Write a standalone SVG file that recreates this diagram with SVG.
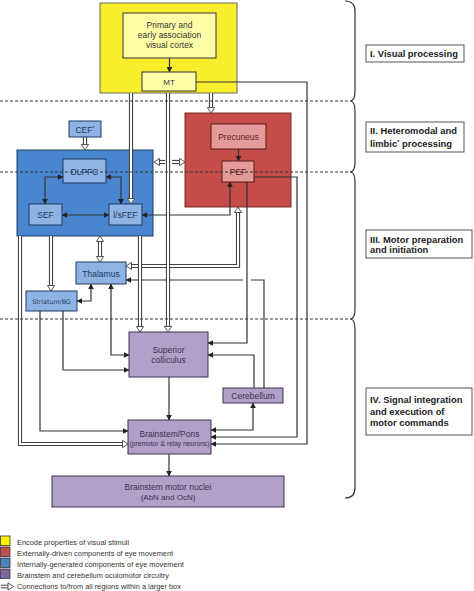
<svg xmlns="http://www.w3.org/2000/svg" width="474" height="591" viewBox="0 0 474 591">
<style>
text{font-family:"Liberation Sans",Arial,sans-serif;font-size:8.5px;text-anchor:middle}
.yo{fill:#F8EE2E;stroke:#666;stroke-width:1}
.yi{fill:#FFFFA8;stroke:#333;stroke-width:1}
.ro{fill:#C44D4A;stroke:#7A2A28;stroke-width:1}
.ri{fill:#E39A98;stroke:#5A1A18;stroke-width:1}
.bo{fill:#4A86D0;stroke:#1F3B63;stroke-width:1}
.bi{fill:#8DB4E2;stroke:#1F3B63;stroke-width:1}
.pu{fill:#B1A0C7;stroke:#3D3355;stroke-width:1}
.tb{fill:#1F3864}.tr{fill:#5B1F1E}.tp{fill:#403152}.ty{fill:#333}
.ln{fill:none;stroke:#333;stroke-width:1.2}
.dO{fill:none;stroke:#444;stroke-width:4.2}
.dI{fill:none;stroke:#fff;stroke-width:2}
.dash{stroke:#333;stroke-width:1;stroke-dasharray:3 2}
.rb{fill:#fff;stroke:#555;stroke-width:1}
.rt{font-weight:bold;font-size:9.4px;text-anchor:start;fill:#222}
.lg{font-size:7.4px;text-anchor:start;fill:#333}
</style>
<defs>
<marker id="sa" markerUnits="userSpaceOnUse" markerWidth="8" markerHeight="8" viewBox="-1 -4 7 8" refX="5" refY="0" orient="auto-start-reverse"><path d="M0,-2.8 L5.5,0 L0,2.8 Z" fill="#222"/></marker>
<marker id="oa" markerUnits="userSpaceOnUse" markerWidth="10" markerHeight="10" viewBox="-1 -5 8 10" refX="0" refY="0" orient="auto-start-reverse"><path d="M0,-3.6 L5.5,0 L0,3.6 Z" fill="#fff" stroke="#444" stroke-width="0.9"/></marker>
</defs>

<g id="yellow-region">
<rect class="yo" x="100" y="3" width="137" height="90"/>
</g>
<g id="red-region">
<rect class="ro" x="185" y="113" width="106" height="94"/>
</g>
<g id="blue-region">
<rect class="bo" x="17" y="150" width="136" height="86"/>
</g>

<g id="connectors">
<path class="ln" d="M169.5,58 V72" marker-end="url(#sa)"/>
<path class="ln" d="M63,177 H45 V204" marker-start="url(#sa)" marker-end="url(#sa)"/>
<path class="ln" d="M106,177 H121 V204" marker-start="url(#sa)" marker-end="url(#sa)"/>
<path class="ln" d="M62,215 H109" marker-start="url(#sa)" marker-end="url(#sa)"/>
<path class="ln" d="M142,215 H230 V182" marker-start="url(#sa)" marker-end="url(#sa)"/>
<path class="ln" d="M238.5,149 V161" marker-end="url(#sa)"/>
<path class="ln" d="M247,182 V343 H208" marker-end="url(#sa)"/>
<path class="ln" d="M254,177 H297 V437 H211" marker-end="url(#sa)"/>
<path class="ln" d="M196,82 H307 V444 H211" marker-end="url(#sa)"/>
<path class="ln" d="M254,388 V355 H208" marker-end="url(#sa)"/>
<path class="ln" d="M264,388 V280 H251"/>
<path class="ln" d="M243,280 H126" marker-end="url(#sa)"/>
<path class="ln" d="M253,403 V430 H211" marker-start="url(#sa)" marker-end="url(#sa)"/>
<path class="ln" d="M111,284 V355 H129" marker-start="url(#sa)" marker-end="url(#sa)"/>
<path class="ln" d="M77,301 H91 V284" marker-start="url(#sa)" marker-end="url(#sa)"/>
<path class="ln" d="M63,311 V370 H129" marker-end="url(#sa)"/>
<path class="ln" d="M40,311 V431 H128" marker-end="url(#sa)"/>
<path class="ln" d="M169,377 V420" marker-end="url(#sa)"/>
<path class="ln" d="M169,454 V476" marker-end="url(#sa)"/>

<path class="dO" d="M238,212.5 V266 H131.5"/>
<path class="dI" d="M238,212.5 V266 H131.5" marker-start="url(#oa)" marker-end="url(#oa)"/>
<path class="dO" d="M131,93 V198.5"/>
<path class="dI" d="M131,93 V198.5" marker-end="url(#oa)"/>
<path class="dO" d="M168,93 V326.5"/>
<path class="dI" d="M168,93 V326.5" marker-end="url(#oa)"/>
<path class="dO" d="M211,93 V107.5"/>
<path class="dI" d="M211,93 V107.5" marker-end="url(#oa)"/>
<path class="dO" d="M85,137 V144.5"/>
<path class="dI" d="M85,137 V144.5" marker-end="url(#oa)"/>
<path class="dO" d="M165,162 H159.5"/>
<path class="dI" d="M165,162 H159.5" marker-end="url(#oa)"/>
<path class="dO" d="M172,162 H179.5"/>
<path class="dI" d="M172,162 H179.5" marker-end="url(#oa)"/>
<path class="dO" d="M100,241.5 V256.5"/>
<path class="dI" d="M100,241.5 V256.5" marker-start="url(#oa)" marker-end="url(#oa)"/>
<path class="dO" d="M51,236 V285.5"/>
<path class="dI" d="M51,236 V285.5" marker-end="url(#oa)"/>
<path class="dO" d="M140,236 V326.5"/>
<path class="dI" d="M140,236 V326.5" marker-end="url(#oa)"/>
<path class="dO" d="M20,236 V444 H122.5"/>
<path class="dI" d="M20,236 V444 H122.5" marker-end="url(#oa)"/>
</g>

<g id="primary">
<rect class="yi" x="123" y="13" width="93" height="45"/>
<text class="ty" x="169.5" y="28">Primary and</text>
<text class="ty" x="169.5" y="38">early association</text>
<text class="ty" x="169.5" y="48">visual cortex</text>
</g>
<g id="mt">
<rect class="yi" x="142" y="72" width="54" height="19"/>
<text class="ty" x="169" y="85" style="font-size:8px">MT</text>
</g>
<g id="precuneus">
<rect class="ri" x="211" y="124" width="55" height="25"/>
<text class="tr" x="238.5" y="140">Precuneus</text>
</g>
<g id="pef">
<rect class="ri" x="222" y="161" width="32" height="21"/>
<text class="tr" x="238" y="175">PEF</text>
</g>
<g id="cef">
<rect class="bi" x="69" y="121" width="32" height="16"/>
<text class="tb" x="85" y="133">CEF<tspan style="font-size:5.5px" dy="-3">*</tspan></text>
</g>
<g id="dlpfc">
<rect class="bi" x="63" y="159" width="43" height="24"/>
<text class="tb" x="84.5" y="175">DLPFC</text>
</g>
<g id="sef">
<rect class="bi" x="29" y="204" width="33" height="21"/>
<text class="tb" x="45.5" y="218">SEF</text>
</g>
<g id="lsfef">
<rect class="bi" x="109" y="204" width="33" height="21"/>
<text class="tb" x="125.5" y="218">l/sFEF</text>
</g>
<g id="thalamus">
<rect class="bi" x="76" y="262" width="50" height="22"/>
<text class="tb" x="101" y="277">Thalamus</text>
</g>
<g id="striatum">
<rect class="bi" x="26" y="291" width="51" height="20"/>
<text class="tb" x="51.5" y="304" style="font-family:'DejaVu Sans',sans-serif;font-size:6.3px">Striatum/BG</text>
</g>
<g id="sc">
<rect class="pu" x="129" y="332" width="79" height="45"/>
<text class="tp" x="168.5" y="353">Superior</text>
<text class="tp" x="168.5" y="363">colliculus</text>
</g>
<g id="cerebellum">
<rect class="pu" x="223" y="388" width="60" height="15"/>
<text class="tp" x="253" y="399">Cerebellum</text>
</g>
<g id="pons">
<rect class="pu" x="128" y="420" width="83" height="34"/>
<text class="tp" x="169.5" y="437">Brainstem/Pons</text>
<text class="tp" x="169.5" y="446" style="font-size:6.7px">(premotor &amp; relay neurons)</text>
</g>
<g id="motor-nuclei">
<rect class="pu" x="52" y="476" width="232" height="31"/>
<text class="tp" x="168" y="490">Brainstem motor nuclei</text>
<text class="tp" x="168" y="500" style="font-size:8px">(AbN and OcN)</text>
</g>

<g id="dividers">
<line class="dash" x1="0" y1="101" x2="350" y2="101"/>
<line class="dash" x1="0" y1="172" x2="350" y2="172"/>
<line class="dash" x1="0" y1="319" x2="350" y2="319"/>
<path class="ln" d="M345,1 Q355,1 355,11 V91 Q355,101 350,101 Q355,101 355,111 V162 Q355,172 350,172 Q355,172 355,182 V309 Q355,319 350,319 Q355,319 355,329 V488 Q355,498 345,498"/>
</g>

<g id="region-I">
<rect class="rb" x="366" y="45" width="98" height="17"/>
<text class="rt" x="370" y="57">I. Visual processing</text>
</g>
<g id="region-II">
<rect class="rb" x="366" y="122" width="98" height="30"/>
<text class="rt" x="370" y="134">II. Heteromodal and</text>
<text class="rt" x="370" y="146.5">limbic<tspan style="font-size:6px" dy="-3">*</tspan><tspan dy="3"> processing</tspan></text>
</g>
<g id="region-III">
<rect class="rb" x="366" y="230" width="106" height="28"/>
<text class="rt" x="370" y="242.5">III. Motor preparation</text>
<text class="rt" x="370" y="253">and initiation</text>
</g>
<g id="region-IV">
<rect class="rb" x="366" y="388" width="106" height="47"/>
<text class="rt" x="370" y="403">IV. Signal integration</text>
<text class="rt" x="370" y="414.5">and execution of</text>
<text class="rt" x="370" y="426">motor commands</text>
</g>

<g id="legend">
<rect x="0.5" y="536" width="9.5" height="9.5" fill="#FFF200" stroke="#333" stroke-width="0.8"/>
<rect x="0.5" y="547" width="9.5" height="9.5" fill="#C0504D" stroke="#333" stroke-width="0.8"/>
<rect x="0.5" y="558" width="9.5" height="9.5" fill="#4F81BD" stroke="#333" stroke-width="0.8"/>
<rect x="0.5" y="569" width="9.5" height="9.5" fill="#8064A2" stroke="#333" stroke-width="0.8"/>
<path class="dO" d="M1,586.5 H8" style="stroke-width:3.6"/>
<path class="dI" d="M1,586.5 H8" style="stroke-width:1.6" marker-end="url(#oa)"/>
<text class="lg" x="17" y="544.5">Encode properties of visual stimuli</text>
<text class="lg" x="17" y="555.5">Externally-driven components of eye movement</text>
<text class="lg" x="17" y="566.5">Internally-generated components of eye movement</text>
<text class="lg" x="17" y="577.5">Brainstem and cerebellum oculomotor circuitry</text>
<text class="lg" x="17" y="589">Connections to/from all regions within a larger box</text>
</g>
</svg>
